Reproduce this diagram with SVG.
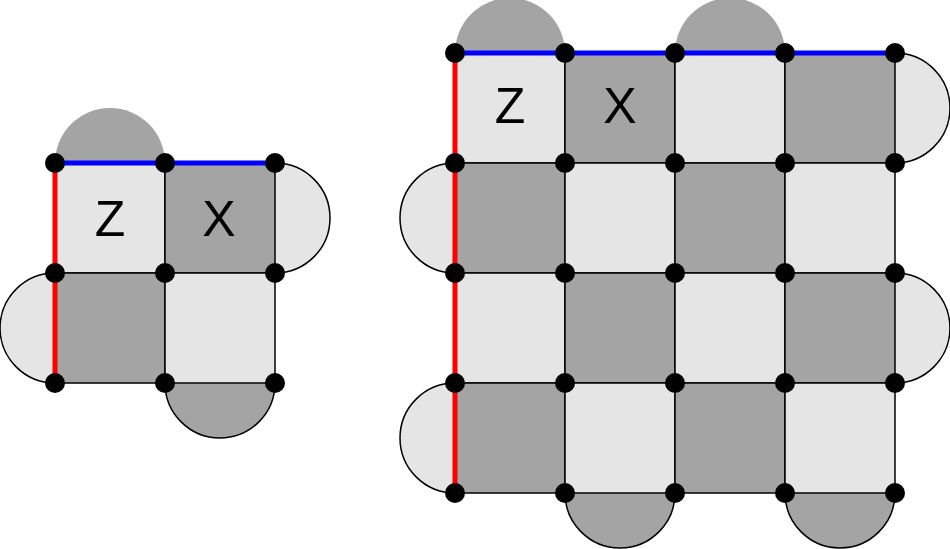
<svg xmlns="http://www.w3.org/2000/svg" width="950" height="549" viewBox="0 0 950 549">
<style>
.l{fill:#e5e5e5;stroke:#000;stroke-width:1.5}
.d{fill:#a4a4a4;stroke:#000;stroke-width:1.5}
.tl{fill:#a4a4a4;stroke:none}
.so{fill:#e5e5e5;stroke:#000;stroke-width:1.5}
.sd{fill:#a4a4a4;stroke:#000;stroke-width:1.5}
.b{stroke:#0000ff;stroke-width:5;fill:none}
.r{stroke:#ff0000;stroke-width:5;fill:none}
.v{fill:#000}
.t{font-family:"Liberation Sans",Arial,sans-serif;font-size:50px;fill:#000;text-anchor:middle}
</style>
<g id="left-diagram">
  <g id="left-caps">
    <path class="tl" d="M55,163 A55,55 0 0 1 165,163 Z"/>
    <path class="so" d="M275,163 A55,55 0 0 1 275,273"/>
    <path class="so" d="M55,383 A55,55 0 0 1 55,273"/>
    <path class="sd" d="M165,383 A55,55 0 0 0 275,383"/>
  </g>
  <g id="left-cells">
    <rect class="l" x="55" y="163" width="110" height="110"/>
    <rect class="d" x="165" y="163" width="110" height="110"/>
    <rect class="d" x="55" y="273" width="110" height="110"/>
    <rect class="l" x="165" y="273" width="110" height="110"/>
  </g>
  <g id="left-boundaries">
    <line class="b" x1="55" y1="163" x2="275" y2="163"/>
    <line class="r" x1="55" y1="163" x2="55" y2="383"/>
  </g>
  <g id="left-vertices" class="v">
    <circle cx="55" cy="163" r="10"/><circle cx="165" cy="163" r="10"/><circle cx="275" cy="163" r="10"/>
    <circle cx="55" cy="273" r="10"/><circle cx="165" cy="273" r="10"/><circle cx="275" cy="273" r="10"/>
    <circle cx="55" cy="383" r="10"/><circle cx="165" cy="383" r="10"/><circle cx="275" cy="383" r="10"/>
  </g>
  <text class="t" x="110" y="236">Z</text>
  <text class="t" x="219" y="236">X</text>
</g>
<g id="right-diagram">
  <g id="right-caps">
    <path class="tl" d="M455,53 A55,55 0 0 1 565,53 Z"/>
    <path class="tl" d="M675,53 A55,55 0 0 1 785,53 Z"/>
    <path class="so" d="M895,53 A55,55 0 0 1 895,163"/>
    <path class="so" d="M895,273 A55,55 0 0 1 895,383"/>
    <path class="so" d="M455,273 A55,55 0 0 1 455,163"/>
    <path class="so" d="M455,493 A55,55 0 0 1 455,383"/>
    <path class="sd" d="M565,493 A55,55 0 0 0 675,493"/>
    <path class="sd" d="M785,493 A55,55 0 0 0 895,493"/>
  </g>
  <g id="right-cells">
    <rect class="l" x="455" y="53" width="110" height="110"/>
    <rect class="d" x="565" y="53" width="110" height="110"/>
    <rect class="l" x="675" y="53" width="110" height="110"/>
    <rect class="d" x="785" y="53" width="110" height="110"/>
    <rect class="d" x="455" y="163" width="110" height="110"/>
    <rect class="l" x="565" y="163" width="110" height="110"/>
    <rect class="d" x="675" y="163" width="110" height="110"/>
    <rect class="l" x="785" y="163" width="110" height="110"/>
    <rect class="l" x="455" y="273" width="110" height="110"/>
    <rect class="d" x="565" y="273" width="110" height="110"/>
    <rect class="l" x="675" y="273" width="110" height="110"/>
    <rect class="d" x="785" y="273" width="110" height="110"/>
    <rect class="d" x="455" y="383" width="110" height="110"/>
    <rect class="l" x="565" y="383" width="110" height="110"/>
    <rect class="d" x="675" y="383" width="110" height="110"/>
    <rect class="l" x="785" y="383" width="110" height="110"/>
  </g>
  <g id="right-boundaries">
    <line class="b" x1="455" y1="53" x2="895" y2="53"/>
    <line class="r" x1="455" y1="53" x2="455" y2="493"/>
  </g>
  <g id="right-vertices" class="v">
    <circle cx="455" cy="53" r="10"/><circle cx="565" cy="53" r="10"/><circle cx="675" cy="53" r="10"/><circle cx="785" cy="53" r="10"/><circle cx="895" cy="53" r="10"/>
    <circle cx="455" cy="163" r="10"/><circle cx="565" cy="163" r="10"/><circle cx="675" cy="163" r="10"/><circle cx="785" cy="163" r="10"/><circle cx="895" cy="163" r="10"/>
    <circle cx="455" cy="273" r="10"/><circle cx="565" cy="273" r="10"/><circle cx="675" cy="273" r="10"/><circle cx="785" cy="273" r="10"/><circle cx="895" cy="273" r="10"/>
    <circle cx="455" cy="383" r="10"/><circle cx="565" cy="383" r="10"/><circle cx="675" cy="383" r="10"/><circle cx="785" cy="383" r="10"/><circle cx="895" cy="383" r="10"/>
    <circle cx="455" cy="493" r="10"/><circle cx="565" cy="493" r="10"/><circle cx="675" cy="493" r="10"/><circle cx="785" cy="493" r="10"/><circle cx="895" cy="493" r="10"/>
  </g>
  <text class="t" x="510" y="123">Z</text>
  <text class="t" x="620" y="123">X</text>
</g>
</svg>
